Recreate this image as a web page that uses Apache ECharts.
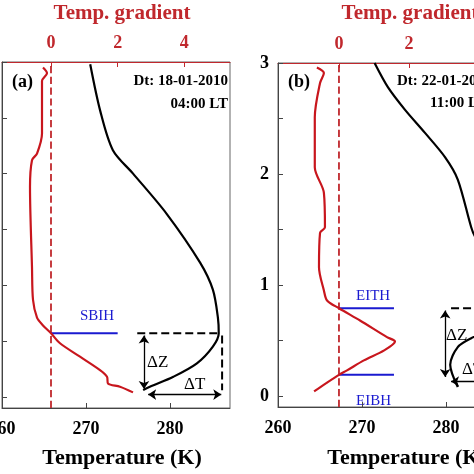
<!DOCTYPE html><html><head><meta charset="utf-8">
<script src="https://cdn.jsdelivr.net/npm/echarts@6/dist/echarts.min.js"></script>
<style>html,body{margin:0;padding:0;background:#fff}#c{width:474px;height:474px}</style></head><body><div id="c"></div>
<script>
const tempA=[[270.5,2.98],[271.7,2.56],[273.2,2.21],[275.6,2.0],[279.6,1.64],[283.6,1.2],[285.1,0.96],[285.7,0.71],[285.8,0.57],[285.1,0.45],[283.2,0.3],[280.4,0.18],[277.6,0.09],[276.8,0.06]];
const gradA=[[-0.24,2.95],[-0.12,2.9],[-0.27,2.83],[-0.27,2.36],[-0.42,2.18],[-0.57,2.12],[-0.63,1.88],[-0.57,1.16],[-0.54,0.87],[-0.42,0.71],[-0.24,0.64],[0,0.57],[0.27,0.48],[0.87,0.36],[1.47,0.24],[1.68,0.18],[1.71,0.12],[2.07,0.09],[2.46,0.04]];
const tempB=[[271.5,3.0],[273.1,2.78],[275.1,2.58],[277.5,2.37],[279.9,2.15],[281.4,1.95],[283.0,1.52],[283.5,1.43],[286,1.2],[289,0.95],[289,0.75],[285.5,0.6],[283,0.52],[281.4,0.44],[280.5,0.28],[281.4,0.08]];
const gradB=[[-0.63,2.96],[-0.43,2.91],[-0.54,2.82],[-0.69,2.51],[-0.69,2.06],[-0.43,1.83],[-0.4,1.52],[-0.54,1.47],[-0.57,1.16],[-0.43,0.95],[-0.34,0.86],[0,0.79],[0.6,0.68],[1.37,0.53],[1.6,0.49],[1.29,0.41],[0.71,0.32],[0.23,0.23],[0,0.19],[-0.34,0.12],[-0.71,0.04]];
const tempTicks=[260,270,280];
const gradTicks=[0,2,4];
const heightTicks=[0,1,2,3];
const heightMinor=[0,0.5,1,1.5,2,2.5,3];
const SERIF='Liberation Serif';
function xT(gi,min,max){return {type:'value',gridIndex:gi,position:'bottom',min:min,max:max,
 axisLine:{onZero:false,lineStyle:{color:'#444'}},splitLine:{show:false},
 axisTick:{inside:true,customValues:tempTicks,lineStyle:{color:'#444'}},
 axisLabel:{customValues:tempTicks,color:'#000',fontFamily:SERIF,fontWeight:'bold',fontSize:18,margin:12}};}
function xG(gi,min,max){return {type:'value',gridIndex:gi,position:'top',min:min,max:max,
 axisLine:{onZero:false,lineStyle:{color:'#c0282d'}},splitLine:{show:false},
 axisTick:{inside:true,customValues:gradTicks,lineStyle:{color:'#c0282d'}},
 axisLabel:{customValues:gradTicks,color:'#c0282d',fontFamily:SERIF,fontWeight:'bold',fontSize:18,margin:10}};}
function yH(gi){return {type:'value',gridIndex:gi,min:-0.1,max:3.0,
 axisLine:{onZero:false,lineStyle:{color:'#444'}},splitLine:{show:false},
 axisTick:{inside:true,customValues:heightMinor,lineStyle:{color:'#444'}},
 axisLabel:{customValues:heightTicks,color:'#000',fontFamily:SERIF,fontWeight:'bold',fontSize:18,margin:9}};}
const blk={color:'#000',width:2.2};
function ln(x,y,data,style){return {type:'line',xAxisIndex:x,yAxisIndex:y,data:data,symbol:'none',smooth:0.3,lineStyle:style,silent:true,z:3};}
function seg(x,y,data,color,type,w){return {type:'line',xAxisIndex:x,yAxisIndex:y,data:data,symbol:'none',lineStyle:{color:color,type:type||'solid',width:w||2},silent:true,z:2};}
function arrows(x,y,coords){return {type:'lines',coordinateSystem:'cartesian2d',xAxisIndex:x,yAxisIndex:y,symbol:['arrow','arrow'],symbolSize:8,lineStyle:{color:'#000',width:1.3,opacity:1},data:coords.map(c=>({coords:c})),silent:true};}
const txt=(x,y,t,o)=>({type:'text',style:Object.assign({x:x,y:y,text:t,fontFamily:SERIF,fontWeight:'bold',fontSize:17,fill:'#000',textVerticalAlign:'middle'},o||{})});
const opt={animation:false,
grid:[{left:2,top:62,width:228,height:346,show:true,borderColor:'#666',borderWidth:1,outerBoundsMode:'none',containLabel:false},
      {left:278,top:63,width:240,height:344,show:true,borderColor:'#666',borderWidth:1,outerBoundsMode:'none',containLabel:false}],
xAxis:[xT(0,260,287.14),xG(0,-1.47,5.37),xT(1,260,288.57),xG(1,-1.74,5.11)],
yAxis:[yH(0),yH(1)],
series:[
 seg(1,0,[[0,-0.1],[0,3]],'#c0282d','dashed',1.8),
 ln(0,0,tempA,blk),ln(1,0,gradA,{color:'#c8161d',width:2.2}),
 seg(1,0,[[0,0.57],[2,0.57]],'#1a1ad0'),
 seg(0,0,[[276.1,0.57],[285.8,0.57]],'#000','dashed',2),
 seg(0,0,[[286.2,0.55],[286.2,0.06]],'#000','dashed',2),
 arrows(0,0,[[[276.9,0.55],[276.9,0.07]],[[277.4,0.02],[286.1,0.02]]]),
 seg(3,1,[[0,-0.1],[0,3]],'#c0282d','dashed',1.8),
 ln(2,1,tempB,blk),ln(3,1,gradB,{color:'#c8161d',width:2.2}),
 seg(3,1,[[0,0.79],[1.57,0.79]],'#1a1ad0'),
 seg(3,1,[[0,0.19],[1.57,0.19]],'#1a1ad0'),
 seg(2,1,[[280.6,0.79],[290,0.79]],'#000','dashed',2),
 arrows(2,1,[[[279.9,0.77],[279.9,0.17]],[[280.6,0.13],[286,0.13]]])
],
graphic:[
 txt(122,14,'Temp. gradient',{fontSize:21,fill:'#c0282d',textAlign:'center'}),
 txt(410,14,'Temp. gradient',{fontSize:21,fill:'#c0282d',textAlign:'center'}),
 txt(122,458,'Temperature (K)',{fontSize:22,textAlign:'center'}),
 txt(407,458,'Temperature (K)',{fontSize:22,textAlign:'center'}),
 txt(12,82,'(a)',{fontSize:18}),
 txt(288,82,'(b)',{fontSize:18}),
 txt(228,81,'Dt: 18-01-2010',{fontSize:15,textAlign:'right'}),
 txt(228,104,'04:00 LT',{fontSize:15,textAlign:'right'}),
 txt(397,81,'Dt: 22-01-2010',{fontSize:15}),
 txt(430,103,'11:00 LT',{fontSize:15}),
 txt(80,316,'SBIH',{fontWeight:'normal',fontSize:15,fill:'#1a1ad0'}),
 txt(356,296,'EITH',{fontWeight:'normal',fontSize:15,fill:'#1a1ad0'}),
 txt(356,401,'EIBH',{fontWeight:'normal',fontSize:15,fill:'#1a1ad0'}),
 txt(147,363,'ΔZ',{fontWeight:'normal',fontSize:17}),
 txt(184,385,'ΔT',{fontWeight:'normal',fontSize:17}),
 txt(446,336,'ΔZ',{fontWeight:'normal',fontSize:17}),
 txt(462,370,'ΔT',{fontWeight:'normal',fontSize:17})
]};
echarts.init(document.getElementById('c')).setOption(opt);
</script></body></html>
